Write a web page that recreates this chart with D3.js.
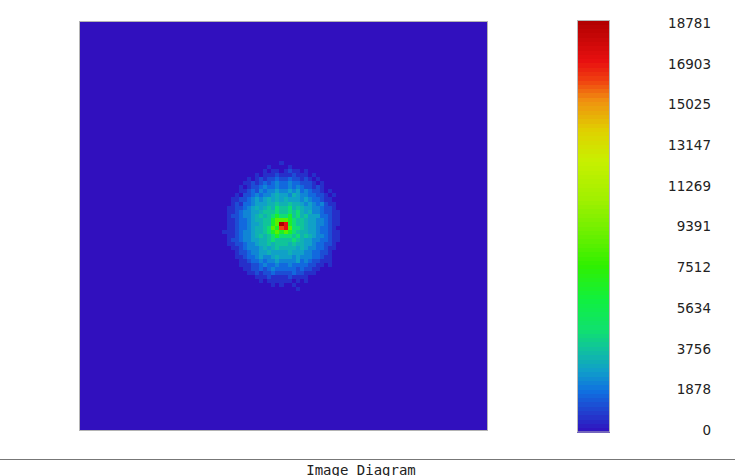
<!DOCTYPE html>
<html><head><meta charset="utf-8">
<script src="https://cdn.jsdelivr.net/npm/d3@7"></script>
<style>body{margin:0;background:#fff}svg{display:block}</style>
</head><body>
<svg id="c" width="735" height="476"></svg>
<script>
// ---------- data ----------
const gridSize = 100;              // 100 x 100 image
const patchRow0 = 34, patchCol0 = 34; // where the non-zero patch sits
const levelChars  = "0123456789axef";
const levelValues = [0, 600, 1200, 1750, 2300, 2850, 3300, 3850, 4600, 6600, 8600, 16000, 16900, 18781];
const patchRows = [
  "00000000000000010000000000000000",
  "00000000000010000100000000000000",
  "00000000000101101211010000000000",
  "00000000010111211121110100000000",
  "00000001012122322322121010000000",
  "00000011212323433433222101000000",
  "00000101223433433434322121000000",
  "00000112324344544545343221010000",
  "00001022343445655465443322101000",
  "00011223454565656555454332110000",
  "00012133455566766766545434211000",
  "00112234565676877867655443221000",
  "00112344556777877878656443221100",
  "00122344567678988978675553321100",
  "00112334566779aaa987765544321100",
  "00112334556779afe987765544321100",
  "0011233456678a9xea88765543321000",
  "01112344566789a9a987665543321100",
  "00112344567678988878676544321100",
  "00122344556678777787655443321100",
  "00112234456676777676655433221000",
  "00011234445656766665654433211000",
  "00001223445565555655544332210000",
  "00001123345445655545444332110000",
  "00000112334344544445343221110000",
  "00000111223433433433332211010000",
  "00000011223234333332322110000000",
  "00000001121223222232211100000000",
  "00000000011121111211110000000000",
  "00000000001011111101010000000000",
  "00000000000001010010000000000000",
  "00000000000000000001000000000000"
];
const maxValue = 18781;
const tickValues = [0, 1878, 3756, 5634, 7512, 9391, 11269, 13147, 15025, 16903, 18781];
const tickLabels = ["0", "1878", "3756", "5634", "7512", "9391", "11269", "13147", "15025", "16903", "18781"];
const colorStops = [0, 1878, 2826, 3738, 4649, 6017, 7612, 8752, 10575, 12398, 13766, 15133, 16044, 16903, 18781];
const colorHex   = ["#3110be", "#1070e0", "#10a0c8", "#10c0a0", "#10e070", "#10f040", "#30f000", "#60f000",
                    "#a0f000", "#c8f000", "#e0d000", "#f09010", "#f04010", "#e81010", "#b00000"];
const titleText = "Image Diagram";

// ---------- build grid ----------
const cells = [];
for (let r = 0; r < gridSize; r++) {
  for (let c = 0; c < gridSize; c++) {
    let v = 0;
    const pr = r - patchRow0, pc = c - patchCol0;
    if (pr >= 0 && pr < patchRows.length && pc >= 0 && pc < patchRows[pr].length) {
      const k = levelChars.indexOf(patchRows[pr][pc]);
      v = k >= 0 ? levelValues[k] : 0;
    }
    cells.push({r, c, v});
  }
}

// ---------- scales ----------
const color = d3.scaleLinear().domain(colorStops).range(colorHex).interpolate(d3.interpolateRgb).clamp(true);
const x = d3.scaleBand().domain(d3.range(gridSize)).range([80, 487]).paddingInner(0);
const y = d3.scaleBand().domain(d3.range(gridSize)).range([22, 430]).paddingInner(0);

const svg = d3.select("#c");

// heatmap
svg.append("g").attr("shape-rendering", "crispEdges")
  .selectAll("rect").data(cells).join("rect")
  .attr("x", d => x(d.c)).attr("y", d => y(d.r))
  .attr("width", x.bandwidth() + 0.6).attr("height", y.bandwidth() + 0.6)
  .attr("fill", d => color(d.v));
svg.append("rect").attr("x", 79.5).attr("y", 21.5).attr("width", 408).attr("height", 409)
  .attr("fill", "none").attr("stroke", "#b4b4b4").attr("stroke-width", 1);

// colour bar
const cbY = d3.scaleLinear().domain([0, maxValue]).range([432, 20]);
const nBands = 96;
const bands = d3.range(nBands).map(i => ({lo: maxValue * i / nBands, hi: maxValue * (i + 1) / nBands}));
svg.append("g").attr("shape-rendering", "crispEdges")
  .selectAll("rect").data(bands).join("rect")
  .attr("x", 577).attr("width", 33)
  .attr("y", d => cbY(d.hi)).attr("height", d => cbY(d.lo) - cbY(d.hi) + 0.5)
  .attr("fill", d => color((d.lo + d.hi) / 2));
svg.append("rect").attr("x", 577.5).attr("y", 20.5).attr("width", 32).attr("height", 411.5)
  .attr("fill", "none").attr("stroke", "#b8b8b8").attr("stroke-width", 1);

// colour bar labels
const labY = d3.scaleLinear().domain([0, maxValue]).range([430, 23]);
svg.append("g").selectAll("text").data(tickValues).join("text")
  .attr("x", 711).attr("y", d => labY(d))
  .attr("text-anchor", "end").attr("dominant-baseline", "central")
  .attr("font-family", "DejaVu Sans, Verdana, sans-serif").attr("font-size", 13.5)
  .attr("fill", "#222")
  .text((d, i) => tickLabels[i]);

// bottom rule + title
svg.append("line").attr("x1", 0).attr("x2", 735).attr("y1", 459.5).attr("y2", 459.5)
  .attr("stroke", "#777").attr("stroke-width", 1);
svg.append("text").attr("x", 361).attr("y", 474.5).attr("text-anchor", "middle")
  .attr("font-family", "DejaVu Sans Mono, monospace").attr("font-size", 14).attr("fill", "#222")
  .text(titleText);
</script>
</body></html>
